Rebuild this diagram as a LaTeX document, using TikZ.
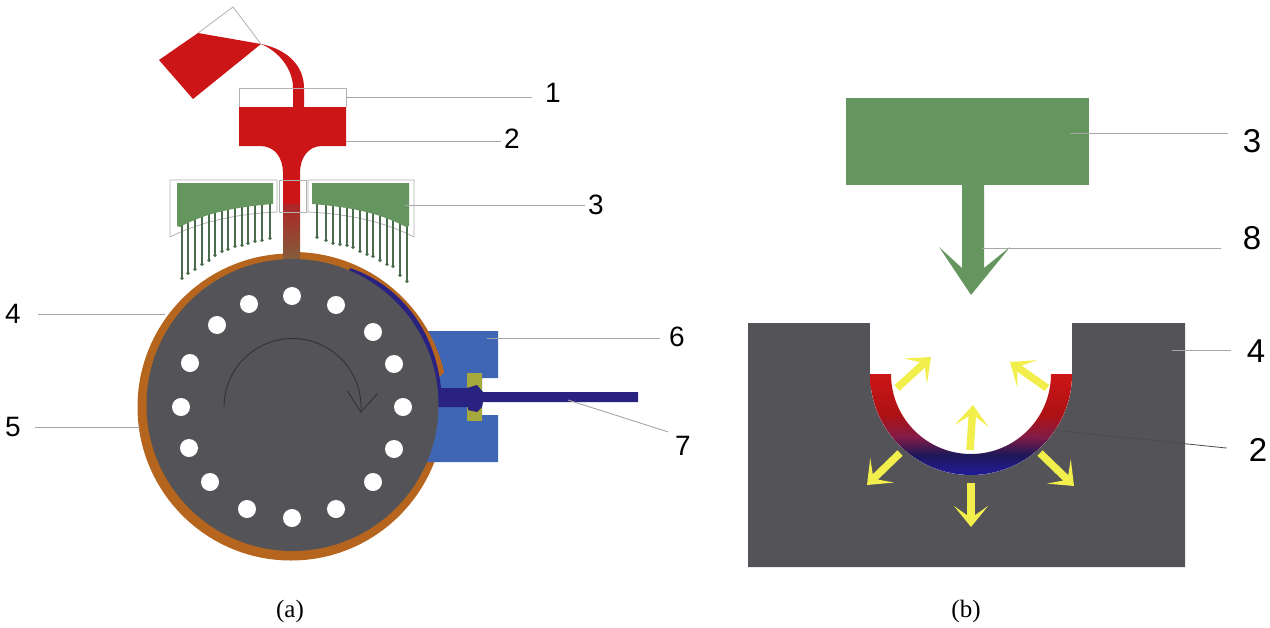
\documentclass[tikz,border=0pt]{standalone}
\usepackage{fontspec}
\setmainfont{Liberation Sans}
\newfontfamily\capfont{Liberation Serif}
\usetikzlibrary{arrows.meta}
\definecolor{wheelgray}{HTML}{545458}
\definecolor{copperc}{HTML}{B5651D}
\definecolor{moldblue}{HTML}{3F66B5}
\definecolor{stripnavy}{HTML}{2A2280}
\definecolor{sealolive}{HTML}{A5A83A}
\definecolor{meltred}{HTML}{CC1517}
\definecolor{coilgreen}{HTML}{66965F}
\definecolor{pingreen}{HTML}{4A6B4C}
\definecolor{heatyellow}{HTML}{F2EE4C}
\pgfdeclareverticalshading{bandfade}{100bp}{
    color(0bp)=(stripnavy!80!blue); color(25bp)=(stripnavy!80!blue); color(35bp)=(stripnavy!70!black); color(44bp)=(meltred!55!stripnavy); color(55bp)=(meltred!85!black); color(75bp)=(meltred); color(100bp)=(meltred)}
\tikzset{
    leader/.style={draw=gray!70, line width=0.9pt},
    thinline/.style={draw=gray!60, line width=0.8pt},
    numlabel/.style={font=\fontsize{28}{32}\selectfont, inner sep=3pt},
    numlabelb/.style={font=\fontsize{33}{38}\selectfont, inner sep=3pt},
    caplabel/.style={font=\capfont\fontsize{25}{30}\selectfont, inner sep=0pt},
    heatarrow/.style={draw=heatyellow, line width=7.5pt, -{Stealth[length=21pt, width=34pt, inset=12pt]}},
    pin/.style={draw=pingreen, line width=1.1pt, -{Circle[length=3.5pt]}},
}
\begin{document}
\begin{tikzpicture}[x=1pt, y=-1pt]
    \useasboundingbox (0,0) rectangle (1270,627);
    \fill[white] (0,0) rectangle (1270,627);

    % ladle and melt
    \draw[thinline] (198,33) -- (233,7) -- (261,44);
    \fill[meltred] (198,33) -- (261,44) -- (193,99) -- (159,60) -- cycle;
    \fill[meltred] (261,44) .. controls (290,50) and (304,68) .. (304,88) -- (304,110) -- (293,110) -- (293,88) .. controls (293,70) and (280,52) .. (261,44) -- cycle;
    \draw[thinline] (239,107) -- (239,88) -- (346,88) -- (346,107);
    \fill[meltred] (239,107) -- (346,107) -- (346,146) -- (322,146) .. controls (308,146) and (300,158) .. (300,173) -- (300,205) -- (283,205) -- (283,173) .. controls (283,158) and (275,146) .. (260,146) -- (239,146) -- cycle;

    % wheel
    \fill[copperc] (291,407) circle (153.5);
    \fill[moldblue] (420,331) -- (498,331) -- (498,378) -- (482,378) -- (482,392) -- (420,392) -- cycle;
    \fill[moldblue] (420,462) -- (498,462) -- (498,415) -- (482,415) -- (482,400) -- (420,400) -- cycle;
    \begin{scope}
        \clip (293,200) -- (460,200) -- (460,358) -- (438,378) -- (293,378) -- cycle;
        \fill[copperc] (293,407) circle (155);
    \end{scope}
    \fill[sealolive] (467,373) rectangle (482,421);
    \fill[stripnavy] (350,268) .. controls (400,285) and (435,330) .. (441,388) -- (300,388) -- cycle;
    \fill[stripnavy] (425,388) -- (467,388) -- (477,385) -- (483,392) -- (638,392) -- (638,402) -- (483,402) -- (482,407) -- (477,412) -- (468,410) -- (468,407) -- (425,407) -- cycle;
    \fill[wheelgray] (292.5,405) circle (146);
    \foreach \hx/\hy in {292/296, 336/305, 373/332, 394/364, 403/407, 394/449, 373/482, 336/509, 292/518, 247/509, 210/482, 189/448, 181/407, 190/363, 217/325, 249/304} {
        \fill[white] (\hx,\hy) circle (9);
    }
    \draw[black!40!wheelgray, line width=0.9pt, -{Straight Barb[length=20pt, width=30pt]}] (224,407) arc[start angle=180, end angle=365, radius=68.5];

    % nozzle end above the wheel
    \fill[top color=meltred!75!wheelgray, bottom color=copperc!50!wheelgray] (283,204) rectangle (300,258);

    % coil
    \draw[thinline] (170,237) -- (170,180) -- (277,180) -- (277,212) .. controls (235,214) and (200,222) .. (170,237);
    \draw[thinline] (414,237) -- (414,180) -- (308,180) -- (308,212) .. controls (350,214) and (385,222) .. (414,237);
    \draw[thinline] (279,180) -- (279,212) -- (306,212) -- (306,180) -- cycle;
    \foreach \px/\py in {182/280, 188/275, 195/271, 202/266, 209/262, 215/257, 222/253, 228/251, 235/248, 242/247, 248/245, 255/243, 262/242, 270/240, 317/239, 326/242, 333/245, 340/246, 347/247, 353/249, 360/253, 367/256, 373/258, 380/262, 387/266, 393/268, 400/277, 407/283} {
        \draw[pin] (\px,200) -- (\px,\py);
    }
    \fill[coilgreen] (177,183) -- (273,183) -- (273,204) .. controls (235,207) and (205,213) .. (180,227) -- (177,226) -- cycle;
    \fill[coilgreen] (409,183) -- (312,183) -- (312,204) .. controls (350,207) and (380,213) .. (406,227) -- (409,226) -- cycle;

    % panel b
    \fill[coilgreen] (846,98) rectangle (1089,185);
    \fill[coilgreen] (962,185) -- (984,185) -- (984,268) -- (1010,247) -- (971,295) -- (939,247) -- (962,268) -- cycle;
    \fill[wheelgray] (748,323) -- (870,323) -- (870,374) arc[start angle=180, end angle=0, radius=101] -- (1072,323) -- (1185,323) -- (1185,567) -- (748,567) -- cycle;
    \fill[white] (870,323) rectangle (1072,374);
    \fill[white] (870,374) arc[start angle=180, end angle=0, radius=101] -- cycle;
    \shade[shading=bandfade] (870,374) arc[start angle=180, end angle=0, radius=101] -- (1051,374) arc[start angle=0, end angle=180, radius=80] -- cycle;

    \coordinate (innerA) at (897,388);
    \coordinate (innerAtip) at (931,357);
    \coordinate (innerB) at (1047,388);
    \coordinate (innerBtip) at (1010,362);
    \coordinate (innerC) at (970,450);
    \coordinate (innerCtip) at (973,405);
    \coordinate (outerA) at (900,453);
    \coordinate (outerAtip) at (867,485);
    \coordinate (outerB) at (1040,453);
    \coordinate (outerBtip) at (1074,486);
    \coordinate (outerC) at (971,483);
    \coordinate (outerCtip) at (971,527);
    \foreach \from/\to in {innerA/innerAtip, innerB/innerBtip, innerC/innerCtip, outerA/outerAtip, outerB/outerBtip, outerC/outerCtip} {
        \draw[heatarrow] (\from) -- (\to);
    }

    % labels
    \node[numlabel] (lblone) at (553,93) {1};
    \node[numlabel] (lbltwo) at (512,139) {2};
    \node[numlabel] (lblthree) at (596,205) {3};
    \node[numlabel] (lblfour) at (13,314) {4};
    \node[numlabel] (lblfive) at (13,427) {5};
    \node[numlabel] (lblsix) at (677,337) {6};
    \node[numlabel] (lblseven) at (683,446) {7};
    \node[numlabelb] (lblthreeb) at (1252,141) {3};
    \node[numlabelb] (lbleight) at (1252,238) {8};
    \node[numlabelb] (lblfourb) at (1256,351) {4};
    \node[numlabelb] (lbltwob) at (1258,450) {2};
    \node[caplabel] (capa) at (290,611) {(a)};
    \node[caplabel] (capb) at (966,611) {(b)};

    \coordinate (leadone) at (346,97);
    \coordinate (leadtwo) at (346,141);
    \coordinate (leadthree) at (405,205);
    \coordinate (leadfour) at (165,314);
    \coordinate (leadfive) at (140,427);
    \coordinate (leadsix) at (487,338);
    \coordinate (leadseven) at (568,400);
    \coordinate (leadthreeb) at (1070,133);
    \coordinate (leadeight) at (982,248);
    \coordinate (leadfourb) at (1172,350);
    \coordinate (leadtwob) at (1052,430);

    \draw[leader, shorten >=10pt] (leadone) -- (leadone -| lblone.west);
    \draw[leader] (leadtwo) -- (leadtwo -| lbltwo.west);
    \draw[leader] (leadthree) -- (leadthree -| lblthree.west);
    \draw[leader, shorten >=14pt] (leadfour) -- (leadfour -| lblfour.east);
    \draw[leader, shorten >=11pt] (leadfive) -- (leadfive -| lblfive.east);
    \draw[leader, shorten >=6pt] (leadsix) -- (leadsix -| lblsix.west);
    \draw[leader, shorten >=4pt] (leadseven) -- (lblseven.north west);
    \draw[leader, shorten >=12pt] (leadthreeb) -- (leadthreeb -| lblthreeb.west);
    \draw[leader, shorten >=19pt] (leadeight) -- (leadeight -| lbleight.west);
    \draw[leader, shorten >=13pt] (leadfourb) -- (leadfourb -| lblfourb.west);
    \draw[black!70, line width=0.8pt, shorten >=19pt] (leadtwob) -- (lbltwob.west);
\end{tikzpicture}
\end{document}
